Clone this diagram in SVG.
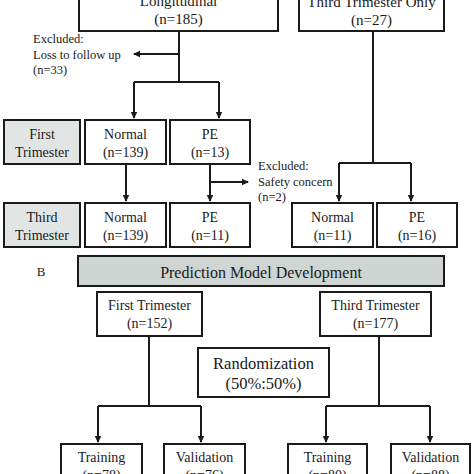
<svg xmlns="http://www.w3.org/2000/svg" width="474" height="474" viewBox="0 0 474 474">
<style>
text{font-family:"Liberation Serif","Times New Roman",serif;fill:#1a1a1a}
.t{font-size:14px;text-anchor:middle}
.s{font-size:12.5px}
.b{fill:#fff;stroke:#1a1a1a;stroke-width:2}
.g{fill:#e1e5e4;stroke:#1a1a1a;stroke-width:2}
.ln{fill:none;stroke:#1a1a1a;stroke-width:2}
</style>
<defs>
<marker id="ah" markerWidth="8" markerHeight="8" refX="6" refY="4" orient="auto" markerUnits="userSpaceOnUse">
<path d="M0,0.8 L7,4 L0,7.2 Z" fill="#1a1a1a"/>
</marker>
</defs>
<rect width="474" height="474" fill="#fff"/>
<g id="connectors">
<path class="ln" d="M179,31 V82"/>
<path class="ln" d="M179,54 H134" marker-end="url(#ah)"/>
<path class="ln" d="M134,82 H219"/>
<path class="ln" d="M134,82 V118" marker-end="url(#ah)"/>
<path class="ln" d="M219,82 V118" marker-end="url(#ah)"/>
<path class="ln" d="M126,165 V201" marker-end="url(#ah)"/>
<path class="ln" d="M210,165 V201" marker-end="url(#ah)"/>
<path class="ln" d="M210,182 H248" marker-end="url(#ah)"/>
<path class="ln" d="M373,32 V163"/>
<path class="ln" d="M339,163 H411"/>
<path class="ln" d="M339,163 V201" marker-end="url(#ah)"/>
<path class="ln" d="M411,163 V201" marker-end="url(#ah)"/>
<path class="ln" d="M149,337 V406"/>
<path class="ln" d="M98,406 H201"/>
<path class="ln" d="M98,406 V442" marker-end="url(#ah)"/>
<path class="ln" d="M201,406 V442" marker-end="url(#ah)"/>
<path class="ln" d="M379,337 V406"/>
<path class="ln" d="M326,406 H430"/>
<path class="ln" d="M326,406 V442" marker-end="url(#ah)"/>
<path class="ln" d="M430,406 V442" marker-end="url(#ah)"/>
</g>
<g id="longitudinal">
<rect class="b" x="79" y="-20" width="199" height="51"/>
<text class="t" x="178.5" y="6" style="font-size:15px">Longitudinal</text>
<text class="t" x="178.5" y="24" style="font-size:15px">(n=185)</text>
</g>
<g id="third-only">
<rect class="b" x="299" y="-20" width="145" height="51"/>
<text class="t" x="371.5" y="7" style="font-size:15px">Third Trimester Only</text>
<text class="t" x="371.5" y="25" style="font-size:15px">(n=27)</text>
</g>
<g id="excluded-loss">
<text class="s" x="33" y="43">Excluded:</text>
<text class="s" x="33" y="58.5">Loss to follow up</text>
<text class="s" x="33" y="74">(n=33)</text>
</g>
<g id="first-label">
<rect class="g" x="4" y="120" width="76" height="44"/>
<text class="t" x="42" y="139">First</text>
<text class="t" x="42" y="157">Trimester</text>
</g>
<g id="first-normal">
<rect class="b" x="85" y="120" width="81" height="44"/>
<text class="t" x="125.5" y="139">Normal</text>
<text class="t" x="125.5" y="157">(n=139)</text>
</g>
<g id="first-pe">
<rect class="b" x="170" y="120" width="80" height="44"/>
<text class="t" x="210" y="139">PE</text>
<text class="t" x="210" y="157">(n=13)</text>
</g>
<g id="excluded-safety">
<text class="s" x="258" y="170">Excluded:</text>
<text class="s" x="258" y="185.5">Safety concern</text>
<text class="s" x="258" y="201">(n=2)</text>
</g>
<g id="third-label">
<rect class="g" x="4" y="203" width="76" height="44"/>
<text class="t" x="42" y="222">Third</text>
<text class="t" x="42" y="240">Trimester</text>
</g>
<g id="third-normal">
<rect class="b" x="85" y="203" width="81" height="44"/>
<text class="t" x="125.5" y="222">Normal</text>
<text class="t" x="125.5" y="240">(n=139)</text>
</g>
<g id="third-pe">
<rect class="b" x="170" y="203" width="80" height="44"/>
<text class="t" x="210" y="222">PE</text>
<text class="t" x="210" y="240">(n=11)</text>
</g>
<g id="only-normal">
<rect class="b" x="292" y="203" width="81" height="44"/>
<text class="t" x="332.5" y="222">Normal</text>
<text class="t" x="332.5" y="240">(n=11)</text>
</g>
<g id="only-pe">
<rect class="b" x="377" y="203" width="80" height="44"/>
<text class="t" x="417" y="222">PE</text>
<text class="t" x="417" y="240">(n=16)</text>
</g>
<g id="label-b">
<text x="41" y="276" style="font-size:13px;text-anchor:middle">B</text>
</g>
<g id="banner">
<rect x="78" y="256" width="366" height="30" fill="#cfd5d3" stroke="#1a1a1a" stroke-width="2"/>
<text class="t" x="261" y="277.5" style="font-size:16px">Prediction Model Development</text>
</g>
<g id="b-first">
<rect class="b" x="97" y="292" width="105" height="44"/>
<text class="t" x="149.5" y="310">First Trimester</text>
<text class="t" x="149.5" y="328">(n=152)</text>
</g>
<g id="b-third">
<rect class="b" x="320" y="292" width="111" height="44"/>
<text class="t" x="375.5" y="310">Third Trimester</text>
<text class="t" x="375.5" y="328">(n=177)</text>
</g>
<g id="randomization">
<rect class="b" x="198" y="348" width="131" height="49"/>
<text class="t" x="263.5" y="369" style="font-size:16.5px">Randomization</text>
<text class="t" x="263.5" y="389" style="font-size:16.5px">(50%:50%)</text>
</g>
<g id="b-first-training">
<rect class="b" x="61" y="444" width="81" height="50"/>
<text class="t" x="101.5" y="462">Training</text>
<text class="t" x="101.5" y="480">(n=78)</text>
</g>
<g id="b-first-validation">
<rect class="b" x="164" y="444" width="81" height="50"/>
<text class="t" x="204.5" y="462">Validation</text>
<text class="t" x="204.5" y="480">(n=76)</text>
</g>
<g id="b-third-training">
<rect class="b" x="288" y="444" width="79" height="50"/>
<text class="t" x="327.5" y="462">Training</text>
<text class="t" x="327.5" y="480">(n=80)</text>
</g>
<g id="b-third-validation">
<rect class="b" x="391" y="444" width="79" height="50"/>
<text class="t" x="430.5" y="462">Validation</text>
<text class="t" x="430.5" y="480">(n=88)</text>
</g>
</svg>
